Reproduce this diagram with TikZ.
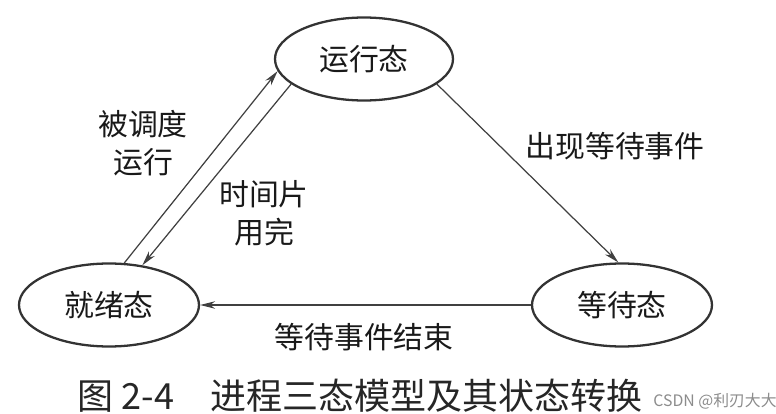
\documentclass[tikz,border=0pt]{standalone}
\usepackage{fontspec}
\setmainfont{Noto Sans CJK SC}
\usepackage{tikz}
\usetikzlibrary{arrows.meta,shapes.geometric}

\begin{document}
\begin{tikzpicture}[
  estado/.style={ellipse,draw=black!80,line width=1.3pt,minimum width=3.56cm,minimum height=1.66cm,inner sep=0pt,text=black!90,font=\fontsize{17}{20}\selectfont},
  etiqueta/.style={align=center,text=black!90,font=\fontsize{17}{21.5}\selectfont},
  flecha/.style={-{Stealth[length=3mm,width=1.5mm]},line width=0.7pt,draw=black!75}
]
  \useasboundingbox (0,0) rectangle (15.52,8.28);
  % estados del proceso
  \node[estado] (run) at (7.28,7.10) {运行态};
  \node[estado,minimum width=3.6cm] (ready) at (2.18,2.18) {就绪态};
  \node[estado,minimum width=3.6cm] (wait) at (12.44,2.18) {等待态};
  % transiciones
  \draw[flecha] (ready.70) -- (run.188);
  \draw[flecha] (run.199) -- (ready.50);
  \draw[flecha] (run.341) -- (wait.95);
  \draw[flecha] (wait.west) -- (ready.east);
  % etiquetas de las transiciones
  \node[etiqueta] (lsched) at (2.86,5.42) {被调度\\运行};
  \node[etiqueta] (lslice) at (5.28,4.02) {时间片\\用完};
  \node[etiqueta] (levent) at (12.30,5.36) {出现等待事件};
  \node[etiqueta] (ldone) at (7.28,1.54) {等待事件结束};
  % pie de figura
  \node[text=black!85,font=\fontsize{20.5}{23}\selectfont] (caption) at (7.20,0.36) {图 2-4\quad 进程三态模型及其状态转换};
  \node[text=black!45,font=\fontsize{9}{10}\selectfont] (mark) at (14.30,0.26) {CSDN @利刃大大};
\end{tikzpicture}
\end{document}
